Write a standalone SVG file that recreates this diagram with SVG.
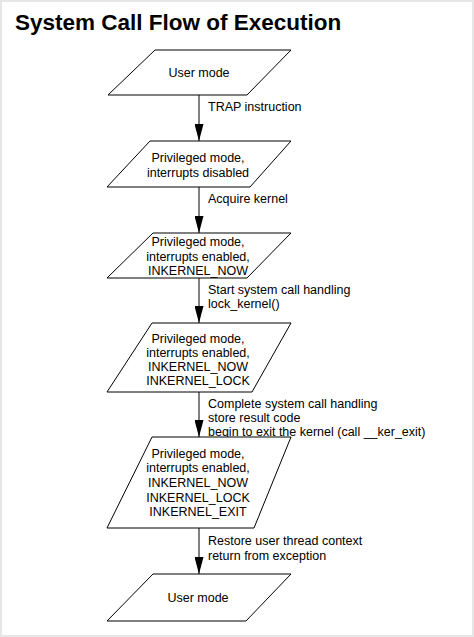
<svg xmlns="http://www.w3.org/2000/svg" width="474" height="637" viewBox="0 0 474 637">
<defs>
<style>
.frame{fill:#ffffff;stroke:#e6e6e6;stroke-width:2}
.node{fill:#ffffff;stroke:#000000;stroke-width:1}
.conn{stroke:#000000;stroke-width:1;fill:none}
.t{font-family:"Liberation Sans",Arial,sans-serif;font-size:12.5px;fill:#000000}
.c{text-anchor:middle}
.title{font-family:"Liberation Sans",Arial,sans-serif;font-size:22.5px;font-weight:bold;fill:#000000}
</style>
<marker id="arr" viewBox="0 0 17 9" refX="17" refY="4.5" markerWidth="17" markerHeight="9" markerUnits="userSpaceOnUse" orient="auto">
<path d="M0,0 L17,4.5 L0,9 z" fill="#000000"/>
</marker>
</defs>
<rect class="frame" x="1" y="1" width="472" height="635"/>
<text class="title" x="15" y="30">System Call Flow of Execution</text>

<g id="connectors">
<line class="conn" x1="199" y1="95" x2="199" y2="141" marker-end="url(#arr)"/>
<line class="conn" x1="199" y1="187" x2="199" y2="233" marker-end="url(#arr)"/>
<line class="conn" x1="199" y1="278" x2="199" y2="323" marker-end="url(#arr)"/>
<line class="conn" x1="199" y1="392" x2="199" y2="437" marker-end="url(#arr)"/>
<line class="conn" x1="199" y1="528" x2="199" y2="574" marker-end="url(#arr)"/>
<text class="t" x="208" y="110.5">TRAP instruction</text>
<text class="t" x="208" y="202.5">Acquire kernel</text>
<text class="t" x="208" y="293.5">Start system call handling</text>
<text class="t" x="208" y="307.5">lock_kernel()</text>
<text class="t" x="208" y="407.5">Complete system call handling</text>
<text class="t" x="208" y="421.5">store result code</text>
<text class="t" x="208" y="435.5">begin to exit the kernel (call __ker_exit)</text>
<text class="t" x="208" y="544.5">Restore user thread context</text>
<text class="t" x="208" y="559.5">return from exception</text>
</g>

<g id="node1">
<polygon class="node" points="155,50 291,50 247,95 108,95"/>
<text class="t c" x="199" y="76.5">User mode</text>
</g>
<g id="node2">
<polygon class="node" points="150,141 291,141 250,187 107,187"/>
<text class="t c" x="198" y="161.5">Privileged mode,</text>
<text class="t c" x="198" y="176.5">interrupts disabled</text>
</g>
<g id="node3">
<polygon class="node" points="153,233 291,233 247,278 107,278"/>
<text class="t c" x="198" y="245.5">Privileged mode,</text>
<text class="t c" x="198" y="260.5">interrupts enabled,</text>
<text class="t c" x="198" y="274.5">INKERNEL_NOW</text>
</g>
<g id="node4">
<polygon class="node" points="152,323 291,323 252,392 107,392"/>
<text class="t c" x="198" y="342.5">Privileged mode,</text>
<text class="t c" x="198" y="356.5">interrupts enabled,</text>
<text class="t c" x="198" y="370.5">INKERNEL_NOW</text>
<text class="t c" x="198" y="384.5">INKERNEL_LOCK</text>
</g>
<g id="node5">
<polygon class="node" points="152,437 291,437 254,528 107,528"/>
<text class="t c" x="198" y="457.5">Privileged mode,</text>
<text class="t c" x="198" y="471.5">interrupts enabled,</text>
<text class="t c" x="198" y="486.5">INKERNEL_NOW</text>
<text class="t c" x="198" y="501.5">INKERNEL_LOCK</text>
<text class="t c" x="198" y="515.5">INKERNEL_EXIT</text>
</g>
<g id="node6">
<polygon class="node" points="153,574 291,574 246,621 107,621"/>
<text class="t c" x="198" y="601.5">User mode</text>
</g>
</svg>
